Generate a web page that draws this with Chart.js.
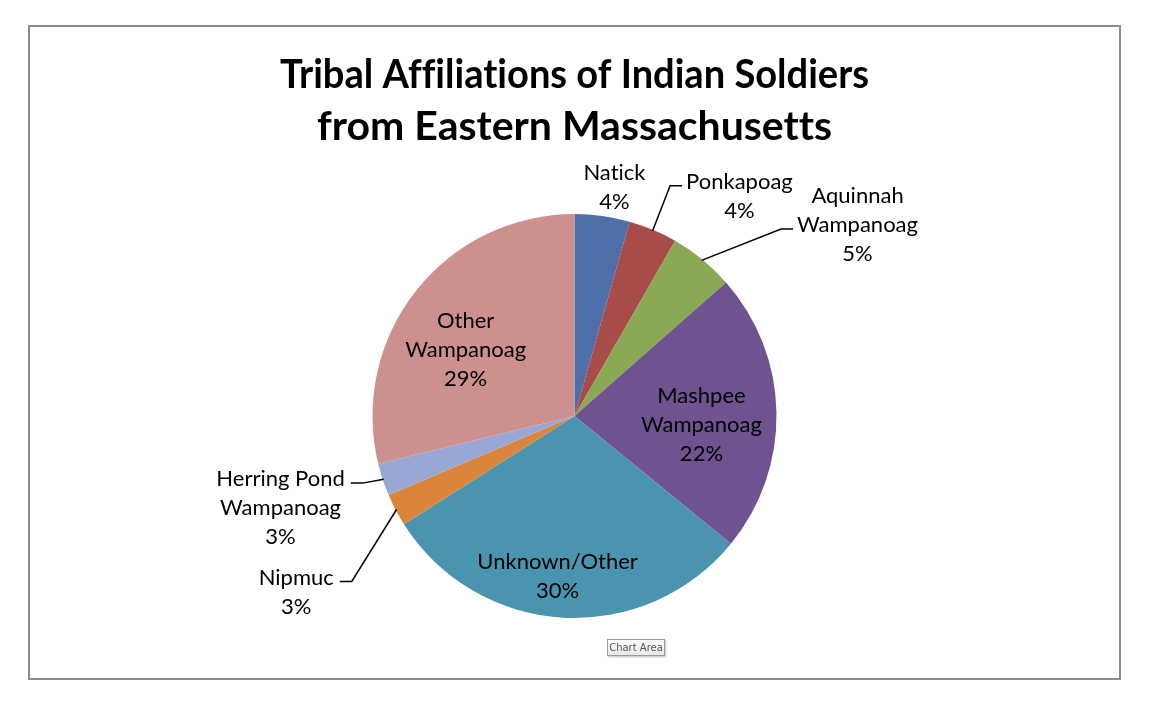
<!DOCTYPE html>
<html>
<head>
<meta charset="utf-8">
<script src="https://cdn.jsdelivr.net/npm/chart.js@4.4.0/dist/chart.umd.min.js"></script>
<style>
    html, body { margin: 0; padding: 0; background: #fff; }
    #frame {
        position: absolute; left: 28px; top: 25px; width: 1093px; height: 655px;
        box-sizing: border-box; border: 2px solid #8c8c8c; background: #fff;
    }
    #chartCanvas { display: block; }
    #tip {
        position: absolute; left: 607px; top: 639px; width: 58px; height: 17px;
        box-sizing: border-box; border: 1px solid #9a9a9a;
        background: linear-gradient(#fdfdfd, #e9e9ee);
        box-shadow: 1px 1px 2px rgba(0,0,0,0.25);
        font: 10px "DejaVu Sans", sans-serif; color: #555;
        line-height: 15px; text-align: center; white-space: nowrap;
    }
</style>
</head>
<body>
<div id="frame"><canvas id="chartCanvas"></canvas></div>
<div id="tip">Chart Area</div>
<script>
// Veri
const categories = ['Natick', 'Ponkapoag', 'Aquinnah\nWampanoag', 'Mashpee\nWampanoag',
    'Unknown/Other', 'Nipmuc', 'Herring Pond\nWampanoag', 'Other\nWampanoag'];
const shares = [4.4, 3.9, 5.2, 22.4, 30.1, 2.6, 2.6, 28.8];
const sliceColors = ['#4f6fa8', '#a84c4a', '#8aa955', '#6f5290', '#4b94af', '#d9853b', '#9aa7d5', '#cc918f'];
const titleLines = ['Tribal Affiliations of Indian Soldiers', 'from Eastern Massachusetts'];

// etiket yerleşimi: açı (tepeden saat yönünde, derece), yarıçap oranı, kılavuz çizgi
const labelPlacement = [
    { angle: 9.9, dist: 1.15, leader: false },
    { angle: 36.9, dist: 1.36, leader: true, attach: 0 },
    { angle: 56, dist: 1.69, leader: true, attach: 1 },
    { angle: 94, dist: 0.63, leader: false },
    { angle: 186, dist: 0.80, leader: false },
    { angle: 237.7, dist: 1.63, leader: true, attach: 0 },
    { angle: 252.6, dist: 1.525, leader: true, attach: 0 },
    { angle: 301.2, dist: 0.63, leader: false }
];

const LABEL_FONT = '22px Lato, "Open Sans", sans-serif';
const LINE_H = 29;

// ligatürleri kapat (başlıkta "ffi", "ti")
const noLigatures = {
    id: 'noLigatures',
    beforeDraw(chart) {
        chart.ctx.textRendering = 'optimizeSpeed';
    }
};

const sliceLabels = {
    id: 'sliceLabels',
    afterDatasetsDraw(chart) {
        const ctx = chart.ctx;
        const meta = chart.getDatasetMeta(0);
        const values = chart.data.datasets[0].data;
        const total = values.reduce((a, b) => a + b, 0);
        ctx.save();
        ctx.font = LABEL_FONT;
        ctx.fillStyle = '#000';
        ctx.textAlign = 'center';
        ctx.textBaseline = 'middle';
        meta.data.forEach((arc, i) => {
            const p = labelPlacement[i];
            const r = arc.outerRadius;
            const th = p.angle * Math.PI / 180;
            const lx = arc.x + p.dist * r * Math.sin(th);
            const ly = arc.y - p.dist * r * Math.cos(th);
            const lines = chart.data.labels[i].split('\n');
            lines.push(Math.round(values[i] / total * 100) + '%');
            const top = ly - (lines.length - 1) * LINE_H / 2;
            lines.forEach((t, k) => ctx.fillText(t, lx, top + k * LINE_H));

            if (p.leader) {
                const w = Math.max(...lines.map(t => ctx.measureText(t).width));
                const mid = (arc.startAngle + arc.endAngle) / 2;
                const sx = arc.x + (r - 1) * Math.cos(mid);
                const sy = arc.y + (r - 1) * Math.sin(mid);
                const right = lx > arc.x;
                const ax = right ? lx - w / 2 - 4 : lx + w / 2 + 6;
                const ay = top + p.attach * LINE_H + 4;
                const bx = right ? ax - 12 : ax + 12;
                ctx.beginPath();
                ctx.moveTo(ax, ay);
                ctx.lineTo(bx, ay);
                ctx.lineTo(sx, sy);
                ctx.lineWidth = 1.5;
                ctx.strokeStyle = '#000';
                ctx.stroke();
            }
        });
        ctx.restore();
    }
};

new Chart(document.getElementById('chartCanvas'), {
    type: 'pie',
    data: {
        labels: categories,
        datasets: [{
            data: shares,
            backgroundColor: sliceColors,
            borderWidth: 0
        }]
    },
    options: {
        responsive: true,
        maintainAspectRatio: false,
        animation: false,
        layout: { padding: { top: 0, bottom: 60, left: 250, right: 250 } },
        plugins: {
            legend: { display: false },
            tooltip: { enabled: false },
            title: {
                display: true,
                text: titleLines,
                color: '#000',
                font: { family: 'Lato, "Open Sans", sans-serif', size: 41, weight: 'bold', lineHeight: 52 / 41 },
                padding: { top: 22, bottom: 61 }
            }
        }
    },
    plugins: [noLigatures, sliceLabels]
});
</script>
</body>
</html>
